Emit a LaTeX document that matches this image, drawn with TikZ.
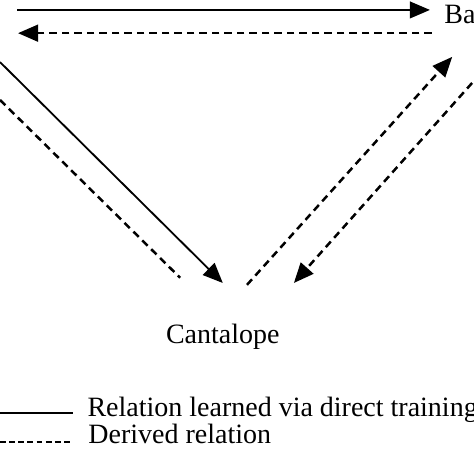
\documentclass[tikz,border=0pt]{standalone}
\usepackage{fontspec}
\setmainfont{Liberation Serif}
\usetikzlibrary{arrows.meta}

\begin{document}
\begin{tikzpicture}
    \tikzstyle{fruit text}=[font=\fontsize{16.8}{20}\selectfont, inner sep=0pt];
    \tikzstyle{relation}=[line width=1.1pt];
    \tikzstyle{direct relation}=[relation, -{Triangle[length=12pt,width=10pt]}];
    \tikzstyle{derived relation}=[direct relation, line width=1.5pt, dash pattern=on 4.5pt off 3pt];
    
    \useasboundingbox (0,0) rectangle (10,10);
    
    \node[fruit text, anchor=west] (banana) at (9.37,9.70) {Ba};
    \node[fruit text, anchor=base] (cantalope) at (4.70,2.76) {Cantalope};
    
    % free ends of the arrows
    \coordinate (ab1) at (0.36,9.79);
    \coordinate (ab2) at (9.07,9.79);
    \coordinate (ba1) at (9.11,9.30);
    \coordinate (ba2) at (0.38,9.30);
    \coordinate (ac1) at (0,8.69);
    \coordinate (ac2) at (4.70,4.03);
    \coordinate (ca1) at (0,7.89);
    \coordinate (ca2) at (3.80,4.14);
    \coordinate (cb1) at (5.21,3.99);
    \coordinate (cb2) at (9.54,8.80);
    \coordinate (bc1) at (9.96,8.25);
    \coordinate (bc2) at (6.20,4.03);
    
    \draw[direct relation] (ab1) -- (ab2);
    \draw[derived relation] (ba1) -- (ba2);
    \draw[direct relation] (ac1) -- (ac2);
    \draw[derived relation, -] (ca1) -- (ca2);
    \draw[derived relation] (cb1) -- (cb2);
    \draw[derived relation] (bc1) -- (bc2);
    
    % legend
    \coordinate (l1) at (0,1.29);
    \coordinate (l2) at (1.54,1.29);
    \coordinate (l3) at (0,0.675);
    \coordinate (l4) at (1.52,0.675);
    \node[fruit text, anchor=base west] (direct) at (1.84,1.21) {Relation learned via direct training};
    \node[fruit text, anchor=base west] (derived) at (1.86,0.65) {Derived relation};
    \draw[relation] (l1) -- (l2);
    \draw[relation, dash pattern=on 3.5pt off 2pt] (l3) -- (l4);
    
\end{tikzpicture}
\end{document}
